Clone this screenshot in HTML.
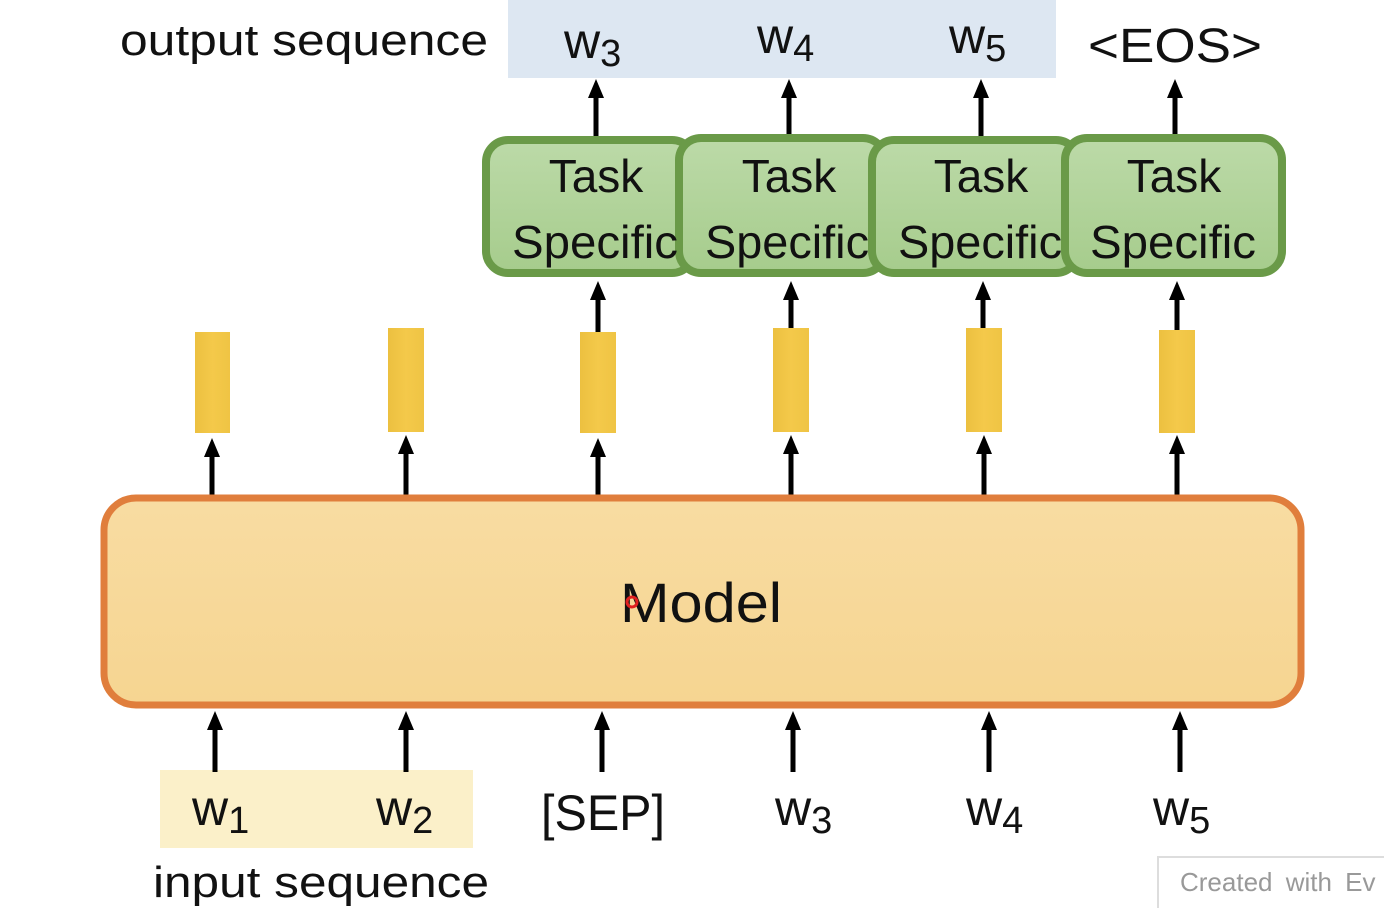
<!DOCTYPE html>
<html><head><meta charset="utf-8"><style>html,body{margin:0;padding:0;background:#fff}svg{display:block}text{font-family:"Liberation Sans","DejaVu Sans",sans-serif;fill:#111}</style></head>
<body>
<svg width="1384" height="908" viewBox="0 0 1384 908" xmlns="http://www.w3.org/2000/svg">
<defs>
<linearGradient id="gg" x1="0" y1="0" x2="0" y2="1"><stop offset="0" stop-color="#bcdaa8"/><stop offset="1" stop-color="#a6cc8c"/></linearGradient>
<linearGradient id="og" x1="0" y1="0" x2="0" y2="1"><stop offset="0" stop-color="#f8dca2"/><stop offset="1" stop-color="#f6d591"/></linearGradient>
<linearGradient id="yg" x1="0" y1="0" x2="1" y2="0"><stop offset="0" stop-color="#ecc040"/><stop offset="0.5" stop-color="#f4c94a"/><stop offset="1" stop-color="#efc444"/></linearGradient>
</defs>
<rect x="508" y="0" width="548" height="78" fill="#dde7f2"/>
<rect x="160" y="770" width="313" height="78" fill="#fbf0c9"/>
<text x="120" y="55" font-size="44" textLength="368" lengthAdjust="spacingAndGlyphs">output sequence</text>
<g font-size="50">
<text x="564" y="58">w<tspan font-size="38" dy="8">3</tspan></text>
<text x="757" y="53">w<tspan font-size="38" dy="8">4</tspan></text>
<text x="949" y="53">w<tspan font-size="38" dy="8">5</tspan></text>
</g>
<text x="1088" y="62" font-size="48" textLength="174" lengthAdjust="spacingAndGlyphs">&lt;EOS&gt;</text>
<g id="arrows" fill="#000">
<!-- helper: line rect + triangle -->
</g>
<g stroke="#000" stroke-width="5">
<line x1="596" y1="136" x2="596" y2="96"/><line x1="789" y1="136" x2="789" y2="96"/><line x1="981" y1="136" x2="981" y2="96"/><line x1="1175" y1="136" x2="1175" y2="96"/>
<line x1="598" y1="332" x2="598" y2="298"/><line x1="791" y1="332" x2="791" y2="298"/><line x1="983" y1="332" x2="983" y2="298"/><line x1="1177" y1="332" x2="1177" y2="298"/>
<line x1="212" y1="499" x2="212" y2="455"/><line x1="406" y1="499" x2="406" y2="452"/><line x1="598" y1="499" x2="598" y2="455"/><line x1="791" y1="499" x2="791" y2="452"/><line x1="984" y1="499" x2="984" y2="452"/><line x1="1177" y1="499" x2="1177" y2="452"/>
<line x1="215" y1="772" x2="215" y2="728"/><line x1="406" y1="772" x2="406" y2="728"/><line x1="602" y1="772" x2="602" y2="728"/><line x1="793" y1="772" x2="793" y2="728"/><line x1="989" y1="772" x2="989" y2="728"/><line x1="1180" y1="772" x2="1180" y2="728"/>
</g>
<g fill="#000">
<path d="M588,98 L596,79 L604,98Z"/><path d="M781,98 L789,79 L797,98Z"/><path d="M973,98 L981,79 L989,98Z"/><path d="M1167,98 L1175,79 L1183,98Z"/>
<path d="M590,300 L598,281 L606,300Z"/><path d="M783,300 L791,281 L799,300Z"/><path d="M975,300 L983,281 L991,300Z"/><path d="M1169,300 L1177,281 L1185,300Z"/>
<path d="M204,457 L212,438 L220,457Z"/><path d="M398,454 L406,435 L414,454Z"/><path d="M590,457 L598,438 L606,457Z"/><path d="M783,454 L791,435 L799,454Z"/><path d="M976,454 L984,435 L992,454Z"/><path d="M1169,454 L1177,435 L1185,454Z"/>
<path d="M207,730 L215,711 L223,730Z"/><path d="M398,730 L406,711 L414,730Z"/><path d="M594,730 L602,711 L610,730Z"/><path d="M785,730 L793,711 L801,730Z"/><path d="M981,730 L989,711 L997,730Z"/><path d="M1172,730 L1180,711 L1188,730Z"/>
</g>
<g stroke="#6a9a48" stroke-width="8" fill="url(#gg)">
<rect x="486" y="140" width="208" height="133" rx="22"/>
<rect x="679" y="138" width="206" height="135" rx="22"/>
<rect x="872" y="140" width="206" height="133" rx="22"/>
<rect x="1065" y="138" width="217" height="135" rx="22"/>
</g>
<g font-size="46" text-anchor="middle">
<text x="596" y="192">Task</text><text x="789" y="192">Task</text><text x="981" y="192">Task</text><text x="1174" y="192">Task</text>
</g>
<g font-size="46">
<text x="512" y="258" textLength="166" lengthAdjust="spacingAndGlyphs">Specific</text>
<text x="705" y="258" textLength="164" lengthAdjust="spacingAndGlyphs">Specific</text>
<text x="898" y="258" textLength="164" lengthAdjust="spacingAndGlyphs">Specific</text>
<text x="1090" y="258" textLength="166" lengthAdjust="spacingAndGlyphs">Specific</text>
</g>
<g fill="url(#yg)">
<rect x="195" y="332" width="35" height="101"/><rect x="388" y="328" width="36" height="104"/><rect x="580" y="332" width="36" height="101"/><rect x="773" y="328" width="36" height="104"/><rect x="966" y="328" width="36" height="104"/><rect x="1159" y="330" width="36" height="103"/>
</g>
<rect x="104" y="498" width="1197" height="207" rx="32" fill="url(#og)" stroke="#e07e3c" stroke-width="7"/>
<text x="620" y="622" font-size="56" textLength="162" lengthAdjust="spacingAndGlyphs">Model</text>
<circle cx="632" cy="602" r="5" fill="none" stroke="#e02020" stroke-width="3"/>
<g font-size="50">
<text x="192" y="825">w<tspan font-size="38" dy="8">1</tspan></text>
<text x="376" y="825">w<tspan font-size="38" dy="8">2</tspan></text>
<text x="775" y="825">w<tspan font-size="38" dy="8">3</tspan></text>
<text x="966" y="825">w<tspan font-size="38" dy="8">4</tspan></text>
<text x="1153" y="825">w<tspan font-size="38" dy="8">5</tspan></text>
</g>
<text x="541" y="830" font-size="50" textLength="124" lengthAdjust="spacingAndGlyphs">[SEP]</text>
<text x="153" y="897" font-size="44" textLength="336" lengthAdjust="spacingAndGlyphs">input sequence</text>
<rect x="1158" y="857" width="240" height="60" fill="#fff" stroke="#ddd" stroke-width="2"/>
<text x="1180" y="891" font-size="26" style="fill:#999" word-spacing="6">Created with Ev</text>
</svg>
</body></html>
